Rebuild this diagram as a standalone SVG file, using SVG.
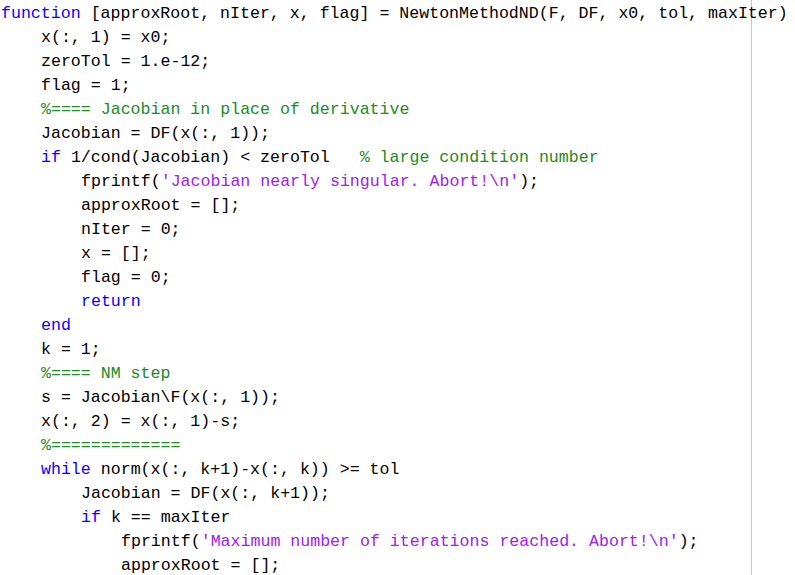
<svg xmlns="http://www.w3.org/2000/svg" width="795" height="575" viewBox="0 0 795 575">
<style>
text{font-family:"Liberation Mono","Courier New",monospace;font-size:16.6px;fill:#000;white-space:pre}
.k{fill:#0E00FF}.c{fill:#228B22}.s{fill:#A020F0}
</style>
<rect width="795" height="575" fill="#fff"/>
<line x1="751.5" y1="0" x2="751.5" y2="575" stroke="#c8c8c8" stroke-width="1"/>
<g id="code">
<text x="1" y="18"><tspan class="k">function</tspan> [approxRoot, nIter, x, flag] = NewtonMethodND(F, DF, x0, tol, maxIter)</text>
<text x="41" y="42">x(:, 1) = x0;</text>
<text x="41" y="66">zeroTol = 1.e-12;</text>
<text x="41" y="90">flag = 1;</text>
<text x="41" y="114" class="c">%==== Jacobian in place of derivative</text>
<text x="41" y="138">Jacobian = DF(x(:, 1));</text>
<text x="41" y="162"><tspan class="k">if</tspan> 1/cond(Jacobian) &lt; zeroTol   <tspan class="c">% large condition number</tspan></text>
<text x="81" y="186">fprintf(<tspan class="s">'Jacobian nearly singular. Abort!\n'</tspan>);</text>
<text x="81" y="210">approxRoot = [];</text>
<text x="81" y="234">nIter = 0;</text>
<text x="81" y="258">x = [];</text>
<text x="81" y="282">flag = 0;</text>
<text x="81" y="306" class="k">return</text>
<text x="41" y="330" class="k">end</text>
<text x="41" y="354">k = 1;</text>
<text x="41" y="378" class="c">%==== NM step</text>
<text x="41" y="402">s = Jacobian\F(x(:, 1));</text>
<text x="41" y="426">x(:, 2) = x(:, 1)-s;</text>
<text x="41" y="450" class="c">%=============</text>
<text x="41" y="474"><tspan class="k">while</tspan> norm(x(:, k+1)-x(:, k)) &gt;= tol</text>
<text x="81" y="498">Jacobian = DF(x(:, k+1));</text>
<text x="81" y="522"><tspan class="k">if</tspan> k == maxIter</text>
<text x="121" y="546">fprintf(<tspan class="s">'Maximum number of iterations reached. Abort!\n'</tspan>);</text>
<text x="121" y="570">approxRoot = [];</text>
</g>
</svg>
